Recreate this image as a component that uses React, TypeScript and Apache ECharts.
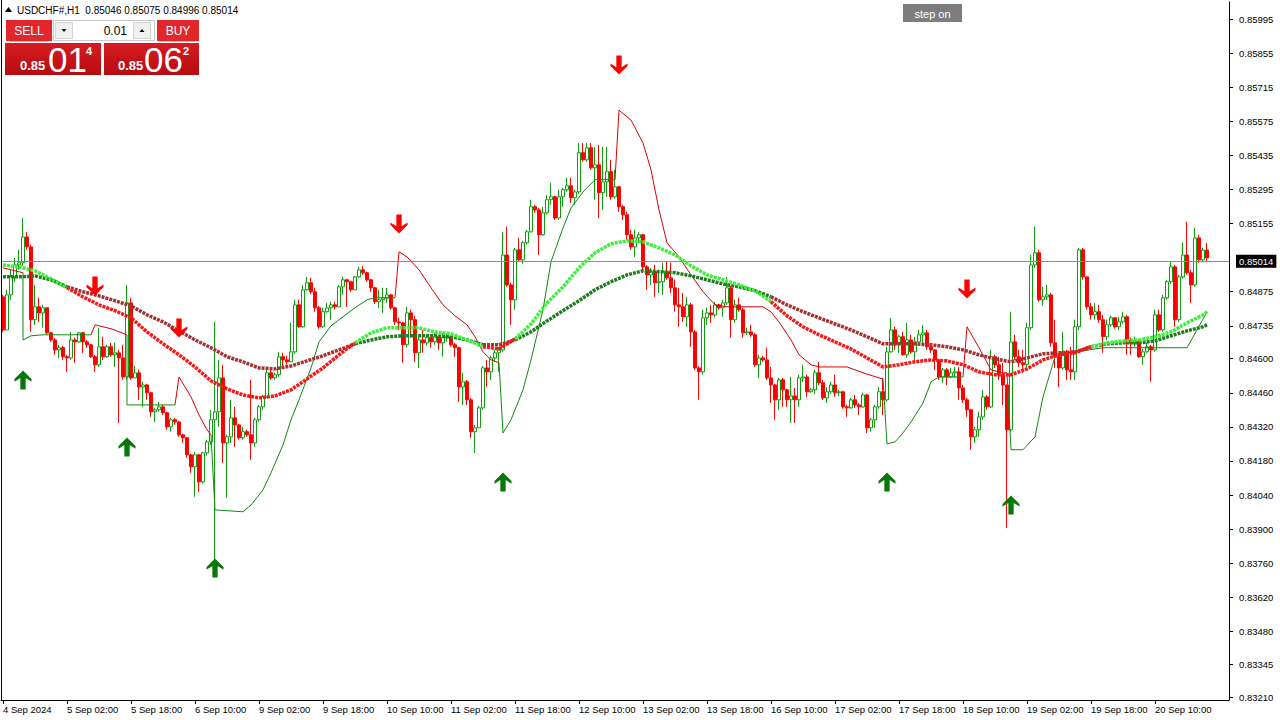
import React, { useEffect, useRef } from "react";
import * as echarts from "echarts";

const FONT = '"Liberation Sans", Arial, sans-serif';

const symbolName = "USDCHF#,H1";
const lotText = "0.01";
const firstOpen = 0.84854;

const closes = [
  0.84718,0.84862,0.84936,0.84985,0.84994,0.85100,0.85059,0.84760,0.84813,0.84788,
  0.84809,0.84706,0.84677,0.84636,0.84645,0.84608,0.84603,0.84677,0.84669,0.84706,
  0.84669,0.84657,0.84608,0.84575,0.84649,0.84608,0.84649,0.84616,0.84624,0.84603,
  0.84525,0.84829,0.84521,0.84542,0.84484,0.84492,0.84460,0.84382,0.84390,0.84402,
  0.84378,0.84320,0.84349,0.84340,0.84287,0.84275,0.84205,0.84156,0.84205,0.84094,
  0.84213,0.84258,0.84349,0.84382,0.84521,0.84254,0.84279,0.84357,0.84328,0.84275,
  0.84300,0.84287,0.84254,0.84349,0.84402,0.84443,0.84542,0.84521,0.84534,0.84608,
  0.84595,0.84587,0.84628,0.84821,0.84731,0.84883,0.84912,0.84875,0.84809,0.84731,
  0.84793,0.84809,0.84821,0.84813,0.84895,0.84924,0.84916,0.84883,0.84936,0.84965,
  0.84953,0.84924,0.84891,0.84834,0.84842,0.84850,0.84862,0.84809,0.84751,0.84747,
  0.84657,0.84788,0.84760,0.84624,0.84677,0.84665,0.84686,0.84669,0.84690,0.84665,
  0.84686,0.84690,0.84657,0.84645,0.84484,0.84505,0.84431,0.84300,0.84316,0.84398,
  0.84562,0.84546,0.84603,0.84624,0.84636,0.85026,0.84903,0.84842,0.85047,0.85006,
  0.85076,0.85121,0.85224,0.85211,0.85109,0.85199,0.85253,0.85265,0.85178,0.85265,
  0.85294,0.85310,0.85261,0.85285,0.85446,0.85417,0.85466,0.85384,0.85396,0.85282,
  0.85326,0.85368,0.85265,0.85306,0.85224,0.85191,0.85109,0.85059,0.85096,0.85109,
  0.84977,0.84944,0.84957,0.84912,0.84916,0.84957,0.84932,0.84891,0.84821,0.84813,
  0.84772,0.84821,0.84710,0.84562,0.84546,0.84768,0.84788,0.84780,0.84821,0.84809,
  0.84829,0.84891,0.84760,0.84821,0.84801,0.84706,0.84710,0.84698,0.84575,0.84603,
  0.84595,0.84521,0.84492,0.84431,0.84513,0.84472,0.84431,0.84447,0.84431,0.84521,
  0.84525,0.84464,0.84472,0.84542,0.84501,0.84439,0.84464,0.84492,0.84460,0.84464,
  0.84402,0.84398,0.84431,0.84410,0.84402,0.84451,0.84316,0.84349,0.84402,0.84464,
  0.84431,0.84628,0.84718,0.84657,0.84690,0.84616,0.84677,0.84628,0.84669,0.84698,
  0.84706,0.84649,0.84636,0.84595,0.84525,0.84554,0.84525,0.84542,0.84546,0.84480,
  0.84431,0.84390,0.84279,0.84308,0.84361,0.84443,0.84402,0.84608,0.84575,0.84534,
  0.84492,0.84308,0.84669,0.84608,0.84583,0.84575,0.84727,0.84985,0.85035,0.84842,
  0.84854,0.84862,0.84665,0.84608,0.84562,0.84628,0.84554,0.84546,0.84731,0.85047,
  0.84936,0.84813,0.84780,0.84793,0.84760,0.84690,0.84739,0.84768,0.84731,0.84751,
  0.84772,0.84677,0.84665,0.84673,0.84608,0.84628,0.84649,0.84636,0.84780,0.84718,
  0.84850,0.84916,0.84977,0.84760,0.84936,0.85026,0.84953,0.84903,0.85096,0.85006,
  0.85046,0.85014,
];

const highs = [
  0.84862,0.84883,0.84965,0.85014,0.85047,0.85178,0.85121,0.85068,0.84903,0.84850,
  0.84821,0.84809,0.84710,0.84686,0.84657,0.84653,0.84616,0.84710,0.84686,0.84710,
  0.84710,0.84677,0.84661,0.84616,0.84727,0.84690,0.84657,0.84665,0.84665,0.84636,
  0.84657,0.84903,0.84850,0.84570,0.84554,0.84505,0.84497,0.84464,0.84398,0.84423,
  0.84410,0.84382,0.84357,0.84357,0.84345,0.84291,0.84279,0.84209,0.84217,0.84209,
  0.84217,0.84267,0.84390,0.84751,0.84595,0.84575,0.84287,0.84431,0.84402,0.84332,
  0.84320,0.84308,0.84513,0.84357,0.84410,0.84451,0.84562,0.84554,0.84542,0.84628,
  0.84624,0.84612,0.84747,0.84842,0.84842,0.84903,0.84936,0.84932,0.84891,0.84817,
  0.84809,0.84829,0.84834,0.84834,0.84903,0.84936,0.84928,0.84920,0.84940,0.84977,
  0.84981,0.84957,0.84928,0.84895,0.84883,0.84891,0.84891,0.84866,0.84813,0.84768,
  0.84751,0.84813,0.84801,0.84776,0.84690,0.84718,0.84702,0.84698,0.84706,0.84694,
  0.84706,0.84702,0.84694,0.84665,0.84649,0.84542,0.84513,0.84439,0.84328,0.84406,
  0.84570,0.84595,0.84612,0.84636,0.84649,0.85121,0.85142,0.84912,0.85055,0.85096,
  0.85084,0.85129,0.85253,0.85232,0.85219,0.85224,0.85273,0.85322,0.85269,0.85294,
  0.85302,0.85343,0.85343,0.85294,0.85486,0.85486,0.85486,0.85486,0.85470,0.85478,
  0.85470,0.85470,0.85417,0.85376,0.85310,0.85232,0.85203,0.85129,0.85129,0.85121,
  0.85113,0.84985,0.84973,0.84985,0.84965,0.84994,0.84998,0.84994,0.84924,0.84891,
  0.84870,0.84854,0.84829,0.84718,0.84570,0.84801,0.84809,0.84821,0.84834,0.84825,
  0.84842,0.84936,0.84899,0.84842,0.84850,0.84809,0.84727,0.84739,0.84706,0.84616,
  0.84612,0.84645,0.84566,0.84497,0.84521,0.84521,0.84476,0.84525,0.84480,0.84534,
  0.84575,0.84534,0.84480,0.84554,0.84587,0.84513,0.84484,0.84505,0.84534,0.84472,
  0.84468,0.84410,0.84439,0.84451,0.84418,0.84460,0.84456,0.84357,0.84410,0.84484,
  0.84521,0.84649,0.84768,0.84731,0.84698,0.84710,0.84747,0.84698,0.84690,0.84718,
  0.84739,0.84718,0.84665,0.84640,0.84566,0.84562,0.84562,0.84562,0.84566,0.84566,
  0.84492,0.84439,0.84394,0.84320,0.84382,0.84472,0.84451,0.84636,0.84616,0.84608,
  0.84583,0.84472,0.84793,0.84698,0.84636,0.84636,0.84747,0.85026,0.85142,0.85047,
  0.84895,0.84903,0.84870,0.84760,0.84616,0.84710,0.84636,0.84649,0.84760,0.85055,
  0.85055,0.84883,0.84829,0.84829,0.84821,0.84780,0.84760,0.84776,0.84768,0.84772,
  0.84793,0.84780,0.84686,0.84690,0.84677,0.84640,0.84665,0.84657,0.84801,0.84801,
  0.84862,0.84924,0.84998,0.84985,0.84944,0.85076,0.85162,0.84965,0.85137,0.85109,
  0.85055,0.85075,
];

const lows = [
  0.84710,0.84760,0.84842,0.84916,0.84965,0.84981,0.85047,0.84710,0.84739,0.84751,
  0.84727,0.84698,0.84669,0.84616,0.84603,0.84595,0.84546,0.84595,0.84583,0.84665,
  0.84624,0.84645,0.84603,0.84546,0.84566,0.84595,0.84603,0.84608,0.84566,0.84336,
  0.84513,0.84513,0.84513,0.84525,0.84431,0.84402,0.84431,0.84361,0.84340,0.84382,
  0.84369,0.84308,0.84300,0.84328,0.84279,0.84254,0.84193,0.84131,0.84033,0.84053,
  0.84086,0.84201,0.84246,0.83733,0.84320,0.84172,0.84028,0.84254,0.84238,0.84267,
  0.84267,0.84279,0.84185,0.84238,0.84340,0.84390,0.84439,0.84513,0.84513,0.84525,
  0.84566,0.84575,0.84587,0.84620,0.84727,0.84727,0.84879,0.84866,0.84793,0.84723,
  0.84727,0.84788,0.84760,0.84801,0.84813,0.84862,0.84813,0.84875,0.84887,0.84932,
  0.84944,0.84916,0.84875,0.84825,0.84809,0.84788,0.84829,0.84801,0.84739,0.84718,
  0.84583,0.84645,0.84686,0.84587,0.84562,0.84624,0.84653,0.84645,0.84657,0.84636,
  0.84608,0.84669,0.84649,0.84608,0.84423,0.84410,0.84410,0.84275,0.84213,0.84340,
  0.84390,0.84484,0.84513,0.84587,0.84546,0.84628,0.84895,0.84739,0.84801,0.84998,
  0.84990,0.85068,0.85117,0.85199,0.85026,0.85105,0.85191,0.85232,0.85170,0.85170,
  0.85224,0.85285,0.85240,0.85232,0.85277,0.85409,0.85409,0.85376,0.85253,0.85178,
  0.85211,0.85265,0.85253,0.85257,0.85203,0.85170,0.85088,0.85047,0.85018,0.85076,
  0.84953,0.84883,0.84903,0.84854,0.84870,0.84862,0.84924,0.84870,0.84793,0.84731,
  0.84751,0.84731,0.84649,0.84554,0.84431,0.84534,0.84739,0.84747,0.84768,0.84801,
  0.84772,0.84821,0.84686,0.84747,0.84793,0.84686,0.84698,0.84690,0.84566,0.84521,
  0.84587,0.84513,0.84418,0.84349,0.84390,0.84402,0.84402,0.84336,0.84336,0.84402,
  0.84505,0.84443,0.84460,0.84456,0.84492,0.84431,0.84418,0.84456,0.84443,0.84447,
  0.84394,0.84361,0.84394,0.84398,0.84369,0.84398,0.84295,0.84300,0.84316,0.84394,
  0.84369,0.84423,0.84624,0.84636,0.84624,0.84612,0.84603,0.84620,0.84583,0.84661,
  0.84653,0.84636,0.84624,0.84554,0.84513,0.84501,0.84492,0.84521,0.84521,0.84431,
  0.84418,0.84361,0.84226,0.84254,0.84279,0.84349,0.84390,0.84398,0.84562,0.84513,
  0.84410,0.83905,0.84300,0.84595,0.84566,0.84542,0.84562,0.84718,0.84973,0.84834,
  0.84817,0.84842,0.84649,0.84562,0.84484,0.84554,0.84513,0.84513,0.84513,0.84718,
  0.84924,0.84801,0.84760,0.84760,0.84747,0.84624,0.84677,0.84731,0.84723,0.84718,
  0.84743,0.84616,0.84616,0.84649,0.84603,0.84575,0.84624,0.84505,0.84628,0.84710,
  0.84710,0.84842,0.84907,0.84731,0.84751,0.84928,0.84944,0.84829,0.84895,0.84994,
  0.84998,0.84996,
];

const xTickLabels = [
  "4 Sep 2024", "5 Sep 02:00", "5 Sep 18:00", "6 Sep 10:00", "9 Sep 02:00",
  "9 Sep 18:00", "10 Sep 10:00", "11 Sep 02:00", "11 Sep 18:00", "12 Sep 10:00",
  "13 Sep 02:00", "13 Sep 18:00", "16 Sep 10:00", "17 Sep 02:00", "17 Sep 18:00",
  "18 Sep 10:00", "19 Sep 02:00", "19 Sep 18:00", "20 Sep 10:00",
];

const yTickLabels = [
  "0.85995", "0.85855", "0.85715", "0.85575", "0.85435", "0.85295", "0.85155",
  "0.84875", "0.84735", "0.84600", "0.84460", "0.84320", "0.84180", "0.84040",
  "0.83900", "0.83760", "0.83620", "0.83480", "0.83345", "0.83210",
];

const maBars = [
  0,4,8,12,16,20,24,28,32,36,40,44,48,52,56,60,64,68,72,76,
  80,84,88,92,96,100,104,108,112,116,120,124,128,132,136,140,144,148,152,156,
  160,164,168,172,176,180,184,188,192,196,200,204,208,212,216,220,224,228,232,236,
  240,244,248,252,256,260,264,268,272,276,280,284,288,292,296,300,301,
];

const maFast = [
  0.84985,0.84977,0.84961,0.84928,0.84891,0.84854,0.84821,0.84797,0.84768,0.84710,
  0.84661,0.84616,0.84566,0.84509,0.84476,0.84451,0.84439,0.84447,0.84472,0.84517,
  0.84562,0.84616,0.84665,0.84706,0.84727,0.84727,0.84727,0.84710,0.84702,0.84677,
  0.84649,0.84640,0.84681,0.84743,0.84829,0.84895,0.84973,0.85035,0.85072,0.85084,
  0.85080,0.85055,0.85026,0.84981,0.84944,0.84924,0.84903,0.84879,0.84834,0.84776,
  0.84731,0.84698,0.84669,0.84640,0.84603,0.84566,0.84575,0.84587,0.84595,0.84591,
  0.84575,0.84546,0.84534,0.84534,0.84558,0.84595,0.84616,0.84624,0.84649,0.84665,
  0.84673,0.84677,0.84690,0.84710,0.84747,0.84780,0.84793,
];

const maSlow = [
  0.84936,0.84936,0.84940,0.84924,0.84895,0.84875,0.84858,0.84838,0.84817,0.84780,
  0.84751,0.84714,0.84677,0.84645,0.84608,0.84587,0.84562,0.84558,0.84570,0.84591,
  0.84612,0.84636,0.84661,0.84677,0.84690,0.84694,0.84694,0.84694,0.84690,0.84677,
  0.84657,0.84657,0.84677,0.84710,0.84755,0.84797,0.84838,0.84883,0.84916,0.84944,
  0.84961,0.84957,0.84953,0.84940,0.84924,0.84907,0.84895,0.84879,0.84854,0.84821,
  0.84793,0.84768,0.84743,0.84718,0.84690,0.84661,0.84661,0.84661,0.84657,0.84649,
  0.84636,0.84616,0.84599,0.84587,0.84603,0.84620,0.84624,0.84628,0.84649,0.84661,
  0.84665,0.84665,0.84673,0.84694,0.84714,0.84731,0.84739,
];

const trailDownSegments = [
  [[0,0.84973],[4,0.84957],[5,0.84953]],
  [[22,0.84698],[23,0.84739],[27,0.84723],[31,0.84698]],
  [[43,0.84410],[44,0.84525],[47,0.84443],[49,0.84369],[51,0.84308],[52,0.84287]],
  [[98,0.84850],[99,0.85039],[101,0.85018],[104,0.84965],[107,0.84891],[110,0.84821],[113,0.84776],[116,0.84739],[118,0.84690],[120,0.84628],[122,0.84595],[124,0.84583]],
  [[153,0.85335],[154,0.85621],[157,0.85580],[160,0.85486],[162,0.85376],[164,0.85211],[166,0.85076],[169,0.85018],[172,0.84944],[175,0.84875],[178,0.84821],[181,0.84813],[190,0.84813],[192,0.84792],[194,0.84751],[197,0.84677],[199,0.84616],[202,0.84575],[204,0.84566],[211,0.84566],[215,0.84542],[219,0.84521],[220,0.84517]],
  [[240,0.84525],[241,0.84731],[244,0.84645],[247,0.84554],[250,0.84542],[251,0.84542]],
];

const trailUpSegments = [
  [[5,0.84953],[5,0.84677],[7,0.84694],[10,0.84698],[22,0.84698]],
  [[31,0.84698],[31,0.84410],[43,0.84410]],
  [[52,0.84287],[53,0.83979],[60,0.83971],[62,0.83999],[65,0.84061],[67,0.84131],[70,0.84246],[72,0.84349],[74,0.84431],[77,0.84562],[79,0.84669],[82,0.84735],[85,0.84772],[88,0.84809],[91,0.84842],[93,0.84850],[98,0.84850]],
  [[124,0.84583],[125,0.84295],[127,0.84349],[130,0.84472],[132,0.84595],[135,0.84801],[137,0.84998],[140,0.85137],[142,0.85219],[145,0.85285],[148,0.85335],[153,0.85335]],
  [[220,0.84517],[221,0.84250],[223,0.84258],[225,0.84295],[227,0.84340],[230,0.84418],[232,0.84505],[234,0.84525],[240,0.84525]],
  [[251,0.84542],[252,0.84226],[255,0.84226],[258,0.84279],[260,0.84443],[263,0.84608],[266,0.84624],[270,0.84632],[275,0.84645],[296,0.84645],[301,0.84792]],
];

const downArrows = [[23,0.84898],[44,0.84726],[99,0.85153],[154,0.85806],[241,0.84886]];
const upArrows = [[5,0.84512],[31,0.84237],[53,0.83740],[125,0.84093],[221,0.84093],[252,0.83999]];

// layout constants
const Y_MIN = 0.83198;
const Y_MAX = 0.86065;
const EMPTY_BARS = 5;

const BULL = "#0f9d0f";
const BEAR = "#ff0000";
const FAST_UP = "#3cf03c";
const FAST_DN = "#ff1414";
const SLOW_UP = "#1e7d1e";
const SLOW_DN = "#a33232";
const TRAIL_UP = "#108a10";
const TRAIL_DN = "#dd0000";

const UP_ARROW = "path://M8,0 L16,8 L16,10.5 L10.5,7 L10.5,18 L5.5,18 L5.5,7 L0,10.5 L0,8 Z";
const DOWN_ARROW = "path://M8,18 L16,10 L16,7.5 L10.5,11 L10.5,0 L5.5,0 L5.5,11 L0,7.5 L0,10 Z";

const MONTHS = ["Jan","Feb","Mar","Apr","May","Jun","Jul","Aug","Sep","Oct","Nov","Dec"];

function buildTimes(n: number) {
  const out: string[] = [];
  let t = Date.UTC(2024, 8, 4, 10);
  while (out.length < n) {
    const d = new Date(t);
    const wd = d.getUTCDay();
    if (wd !== 0 && wd !== 6) {
      out.push(`${d.getUTCDate()} ${MONTHS[d.getUTCMonth()]} ${String(d.getUTCHours()).padStart(2, "0")}:00`);
    }
    t += 3600000;
  }
  return out;
}

function buildRuns(values: number[], green: boolean[]) {
  const runs: { green: boolean; pts: number[][] }[] = [];
  let cur = { green: green[0], pts: [[maBars[0], values[0]]] };
  for (let i = 1; i < values.length; i++) {
    cur.pts.push([maBars[i], values[i]]);
    if (green[i] !== cur.green) {
      runs.push(cur);
      cur = { green: green[i], pts: [[maBars[i], values[i]]] };
    }
  }
  runs.push(cur);
  return runs;
}

function buildOption() {
  const n = closes.length;
  const categories = buildTimes(n + EMPTY_BARS);
  const candleData = closes.map((c, i) => {
    const o = i === 0 ? firstOpen : closes[i - 1];
    const h = Math.max(highs[i], o, c);
    const l = Math.min(lows[i], o, c);
    return [o, c, l, h];
  });
  const last = candleData[n - 1];
  const headerText = `${symbolName}  ${last[0].toFixed(5)} ${last[3].toFixed(5)} ${last[2].toFixed(5)} ${last[1].toFixed(5)}`;
  const lastClose = closes[n - 1];

  const greenState = maFast.map((f, i) => f >= maSlow[i]);
  const fastRuns = buildRuns(maFast, greenState);
  const slowRuns = buildRuns(maSlow, greenState);

  const showTick = (i: number) => i % 16 === 0 && i < n;

  const series: any[] = [
    {
      type: "line",
      data: [],
      silent: true,
      z: 1,
      markLine: {
        silent: true,
        symbol: ["none", "none"],
        lineStyle: { color: "#8c8c8c", width: 1, type: "solid" },
        label: {
          show: true,
          position: "end",
          distance: 7,
          formatter: () => lastClose.toFixed(5),
          color: "#ffffff",
          backgroundColor: "#000000",
          padding: [2, 3, 1, 3],
          fontSize: 9.5,
          fontFamily: FONT,
        },
        data: [{ yAxis: lastClose }],
      },
    },
    {
      type: "candlestick",
      data: candleData,
      barWidth: 3,
      z: 2,
      silent: true,
      itemStyle: {
        color: "#ffffff",
        color0: BEAR,
        borderColor: BULL,
        borderColor0: BEAR,
        borderWidth: 1,
      },
    },
  ];

  trailDownSegments.forEach((seg) => {
    series.push({
      type: "line", data: seg, showSymbol: false, silent: true, z: 3,
      lineStyle: { color: TRAIL_DN, width: 1 },
    });
  });
  trailUpSegments.forEach((seg) => {
    series.push({
      type: "line", data: seg, showSymbol: false, silent: true, z: 3,
      lineStyle: { color: TRAIL_UP, width: 1 },
    });
  });
  slowRuns.forEach((run) => {
    series.push({
      type: "line", data: run.pts, showSymbol: false, silent: true, z: 4,
      lineStyle: { color: run.green ? SLOW_UP : SLOW_DN, width: 3.5, type: [3, 1], cap: "butt" },
    });
  });
  fastRuns.forEach((run) => {
    series.push({
      type: "line", data: run.pts, showSymbol: false, silent: true, z: 5,
      lineStyle: { color: run.green ? FAST_UP : FAST_DN, width: 3.5, type: [3, 1], cap: "butt" },
    });
  });
  series.push({
    type: "scatter", data: upArrows, silent: true, z: 6,
    symbol: UP_ARROW,
    symbolSize: [17, 19],
    symbolKeepAspect: false,
    itemStyle: { color: "#077807", opacity: 1 },
  });
  series.push({
    type: "scatter", data: downArrows, silent: true, z: 6,
    symbol: DOWN_ARROW,
    symbolSize: [17, 19],
    symbolKeepAspect: false,
    itemStyle: { color: "#ff0000", opacity: 1 },
  });

  const boxFill = new echarts.graphic.LinearGradient(0, 0, 0, 1, [
    { offset: 0, color: "#d61c22" },
    { offset: 1, color: "#b60b10" },
  ]);
  const btnRed = "#e2272c";

  const graphic: any[] = [
    { type: "line", shape: { x1: 1.5, y1: 0, x2: 1.5, y2: 700 }, style: { stroke: "#000", lineWidth: 1 }, z: 50 },
    { type: "polygon", shape: { points: [[5, 12], [8.5, 7], [12, 12]] }, style: { fill: "#000" }, z: 50 },
    { type: "text", x: 17, y: 10, style: { text: headerText, fill: "#000", font: `10px ${FONT}`, verticalAlign: "middle" }, z: 50 },

    { type: "rect", shape: { x: 6, y: 20, width: 46, height: 21 }, style: { fill: btnRed }, z: 50 },
    { type: "text", x: 29, y: 30.5, style: { text: "SELL", fill: "#fff", font: `12px ${FONT}`, align: "center", verticalAlign: "middle" }, z: 51 },
    { type: "line", shape: { x1: 10, y1: 41.5, x2: 48, y2: 41.5 }, style: { stroke: "#f4a8a8", lineWidth: 1 }, z: 51 },

    { type: "rect", shape: { x: 53.5, y: 20.5, width: 101, height: 20 }, style: { fill: "#fff", stroke: "#c8c8c8", lineWidth: 1 }, z: 50 },
    { type: "rect", shape: { x: 55.5, y: 22.5, width: 17, height: 16 }, style: { fill: "#f0f0f0", stroke: "#d4d4d4", lineWidth: 1 }, z: 51 },
    { type: "polygon", shape: { points: [[61.5, 29], [66.5, 29], [64, 32]] }, style: { fill: "#000" }, z: 52 },
    { type: "text", x: 127, y: 30.5, style: { text: lotText, fill: "#000", font: `12px ${FONT}`, align: "right", verticalAlign: "middle" }, z: 51 },
    { type: "rect", shape: { x: 133.5, y: 22.5, width: 17, height: 16 }, style: { fill: "#f0f0f0", stroke: "#d4d4d4", lineWidth: 1 }, z: 51 },
    { type: "polygon", shape: { points: [[139.5, 32], [144.5, 32], [142, 29]] }, style: { fill: "#000" }, z: 52 },

    { type: "rect", shape: { x: 157, y: 20, width: 42, height: 21 }, style: { fill: btnRed }, z: 50 },
    { type: "text", x: 178, y: 30.5, style: { text: "BUY", fill: "#fff", font: `12px ${FONT}`, align: "center", verticalAlign: "middle" }, z: 51 },
    { type: "line", shape: { x1: 159, y1: 41.5, x2: 195, y2: 41.5 }, style: { stroke: "#f4a8a8", lineWidth: 1 }, z: 51 },

    { type: "rect", shape: { x: 5, y: 43, width: 96, height: 32 }, style: { fill: boxFill }, z: 50 },
    { type: "text", x: 20, y: 65.5, style: { text: "0.85", fill: "#fff", font: `bold 13px ${FONT}`, verticalAlign: "middle" }, z: 51 },
    { type: "text", x: 48, y: 59, style: { text: "01", fill: "#fff", font: `35px ${FONT}`, verticalAlign: "middle" }, z: 51 },
    { type: "text", x: 86, y: 51, style: { text: "4", fill: "#fff", font: `bold 11px ${FONT}`, verticalAlign: "middle" }, z: 51 },

    { type: "rect", shape: { x: 104, y: 43, width: 95, height: 32 }, style: { fill: boxFill }, z: 50 },
    { type: "text", x: 118, y: 65.5, style: { text: "0.85", fill: "#fff", font: `bold 13px ${FONT}`, verticalAlign: "middle" }, z: 51 },
    { type: "text", x: 144, y: 59, style: { text: "06", fill: "#fff", font: `35px ${FONT}`, verticalAlign: "middle" }, z: 51 },
    { type: "text", x: 183, y: 51, style: { text: "2", fill: "#fff", font: `bold 11px ${FONT}`, verticalAlign: "middle" }, z: 51 },

    { type: "rect", shape: { x: 903, y: 4, width: 59, height: 18 }, style: { fill: "#7d7d7d" }, z: 50 },
    { type: "text", x: 932.5, y: 13.5, style: { text: "step on", fill: "#fff", font: `11px ${FONT}`, align: "center", verticalAlign: "middle" }, z: 51 },
  ];

  return {
    animation: false,
    backgroundColor: "#ffffff",
    grid: { left: 1, right: 51, top: 2, bottom: 20, containLabel: false },
    xAxis: {
      type: "category",
      data: categories,
      boundaryGap: true,
      axisLine: { show: true, lineStyle: { color: "#000", width: 1 } },
      axisTick: { show: true, interval: (i: number) => showTick(i), alignWithLabel: true, length: 4, lineStyle: { color: "#000" } },
      axisLabel: {
        interval: (i: number) => showTick(i),
        formatter: (_v: string, i: number) => xTickLabels[Math.floor(i / 16)] || "",
        align: "left",
        margin: 4,
        fontSize: 9.5,
        fontFamily: FONT,
        color: "#000",
      },
      splitLine: { show: false },
    },
    yAxis: {
      type: "value",
      position: "right",
      min: Y_MIN,
      max: Y_MAX,
      axisLine: { show: true, lineStyle: { color: "#000", width: 1 } },
      axisTick: { show: true, customValues: yTickLabels.map(Number), length: 4, lineStyle: { color: "#000" } },
      axisLabel: {
        customValues: yTickLabels.map(Number),
        formatter: (v: number) => v.toFixed(5),
        margin: 10,
        fontSize: 9.5,
        fontFamily: FONT,
        color: "#000",
      },
      splitLine: { show: false },
    },
    series,
    graphic,
  };
}

export default function App() {
  const ref = useRef<HTMLDivElement>(null);
  useEffect(() => {
    if (!ref.current) return;
    const chart = echarts.init(ref.current, undefined, { renderer: "svg" });
    chart.setOption(buildOption() as any);
    return () => chart.dispose();
  }, []);
  return (
    <div
      ref={ref}
      style={{ position: "absolute", left: 0, top: 0, width: 1280, height: 720, background: "#fff" }}
    />
  );
}
